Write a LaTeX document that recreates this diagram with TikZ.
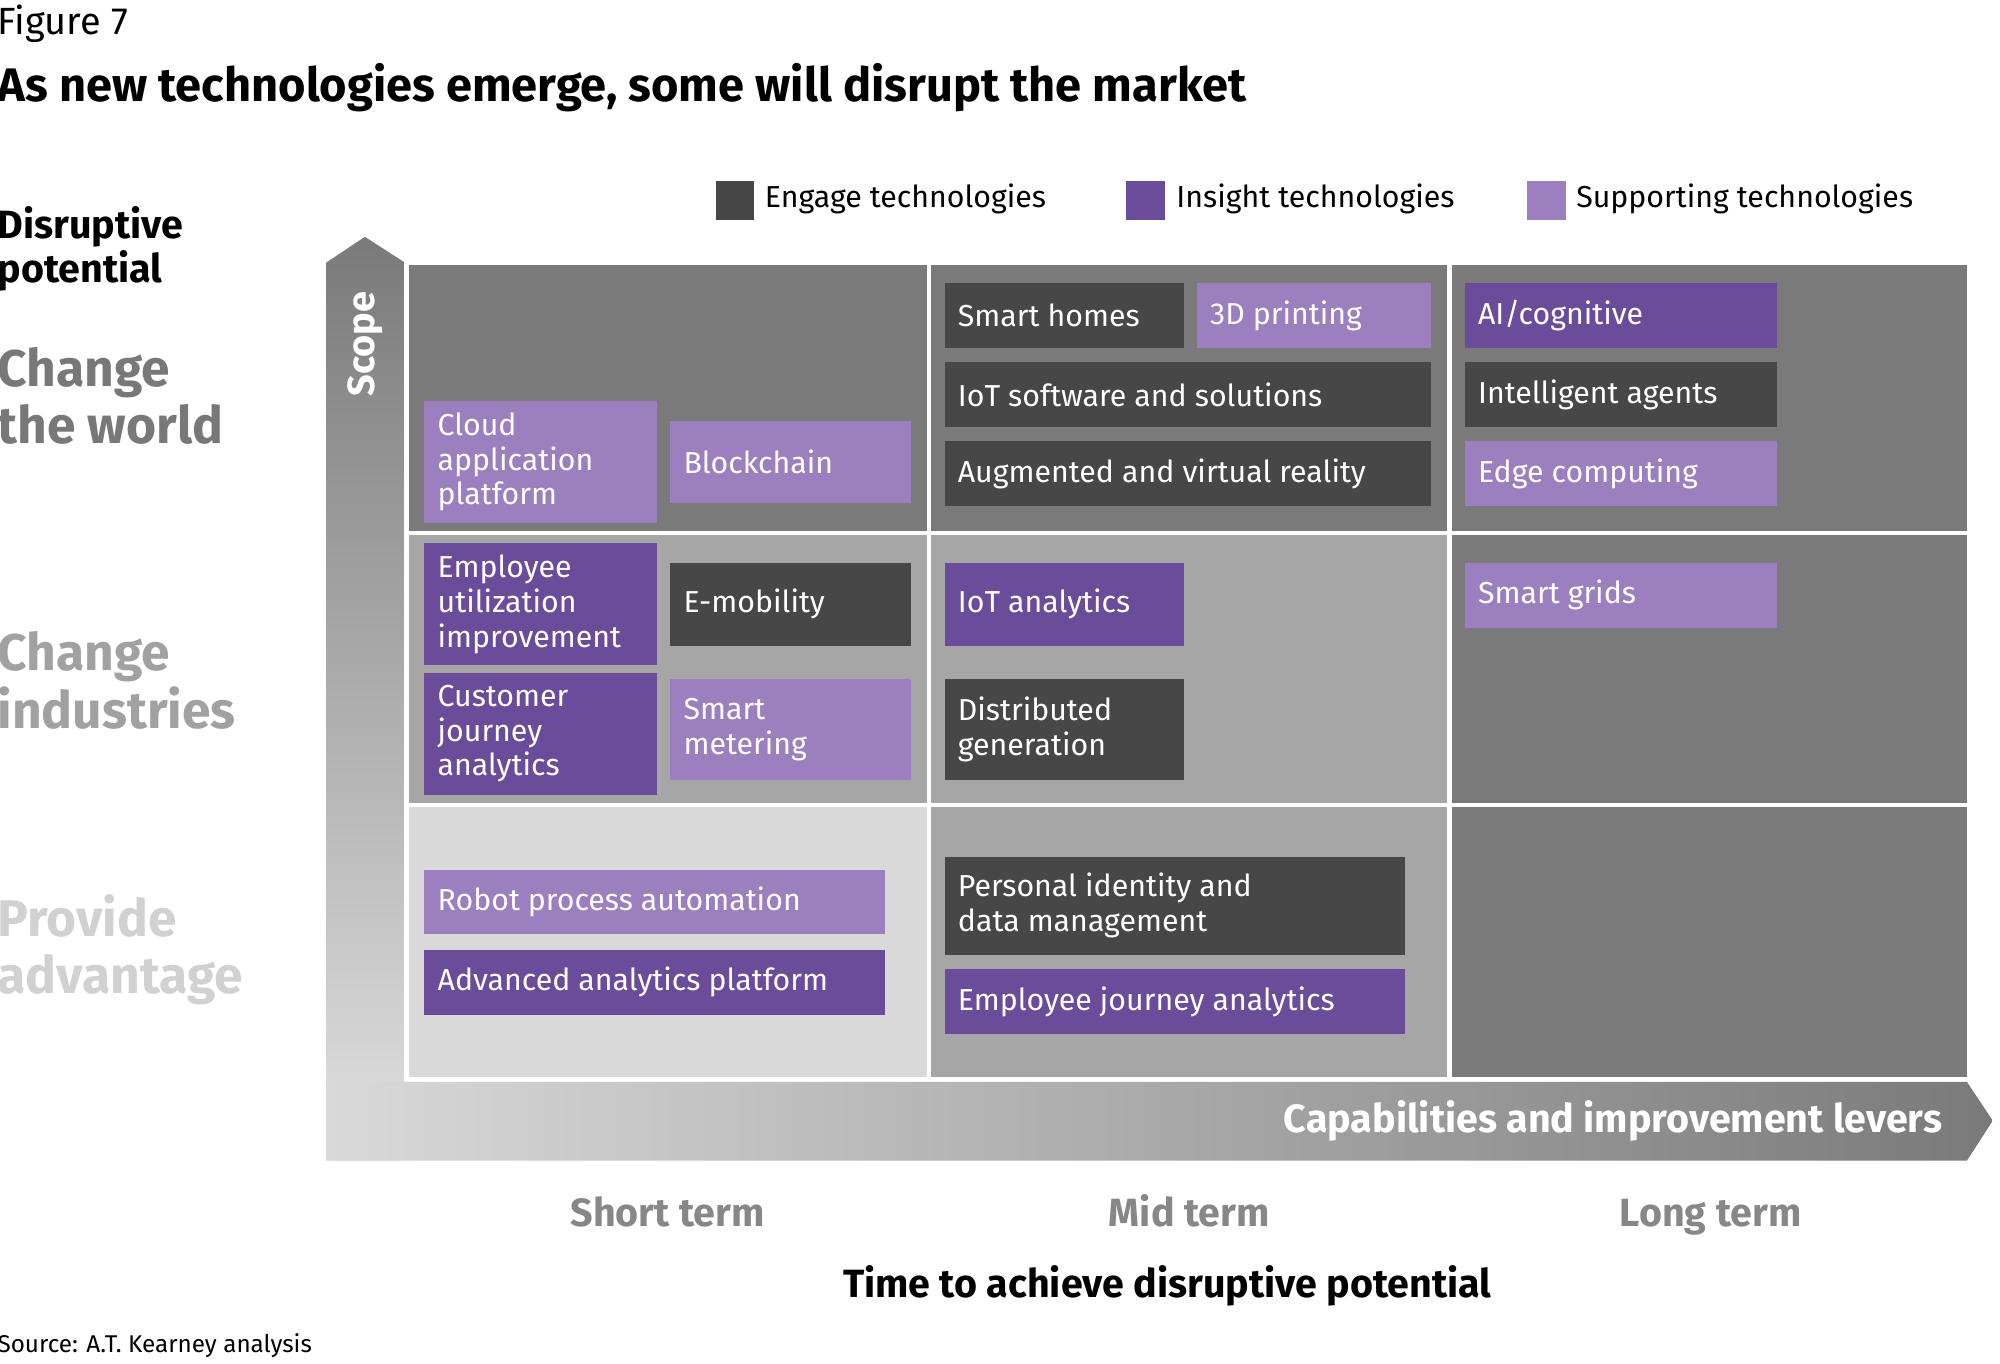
\documentclass[tikz,border=0pt]{standalone}
\usepackage{fontspec}
\setmainfont{Fira Sans}
\definecolor{engage}{HTML}{474747}
\definecolor{insight}{HTML}{6B4C9A}
\definecolor{support}{HTML}{9B7FBF}
\definecolor{celldark}{HTML}{7A7A7A}
\definecolor{cellmid}{HTML}{A6A6A6}
\definecolor{celllight}{HTML}{D9D9D9}
\tikzset{
  boxtext/.style={text=white, font=\fontsize{20}{23}\selectfont, align=left, inner xsep=0.3cm, anchor=west},
  cell/.style={draw=white, line width=3pt},
  rowlabel/.style={font=\bfseries\fontsize{34}{38}\selectfont, align=left, anchor=west},
  termlabel/.style={font=\bfseries\fontsize{26}{30}\selectfont, text=black!47, anchor=base},
  legendtext/.style={font=\fontsize{20}{23}\selectfont, anchor=west}
}
% fill, name, x1, y1, x2, y2, text
\newcommand\techbox[7]{%
  \fill[#1] (#3,#4) rectangle (#5,#6);
  \node[boxtext] (#2) at (#3,{(#4+#6)/2}) {#7};}
\begin{document}
\begin{tikzpicture}[x=0.03cm, y=-0.03cm]
\useasboundingbox (0,0) rectangle (1545.6,1054);

% title
\node[anchor=west, font=\fontsize{25}{28}\selectfont] (fig) at (-6,18) {Figure 7};
\node[anchor=west, font=\bfseries\fontsize{31}{35}\selectfont] (title) at (-6,68) {As new technologies emerge, some will disrupt the market};

% legend
\fill[engage] (553,140) rectangle (583,170);
\node[legendtext] (lgengage) at (587,154) {Engage technologies};
\fill[insight] (870,140) rectangle (900,170);
\node[legendtext] (lginsight) at (905,154) {Insight technologies};
\fill[support] (1180,140) rectangle (1210,170);
\node[legendtext] (lgsupport) at (1214,154) {Supporting technologies};

% row labels
\node[anchor=west, font=\bfseries\fontsize{26}{29}\selectfont, align=left] (disr) at (-6,192) {Disruptive\\potential};
\node[rowlabel, text=black!53] (world) at (-6,306) {Change\\the world};
\node[rowlabel, text=black!37] (indus) at (-6,526) {Change\\industries};
\node[rowlabel, text=black!18] (advan) at (-6,734) {Provide\\advantage};

% axes
\shade[top color=celldark, bottom color=celllight!80] (252,897) -- (252,203) -- (282,183) -- (313,203) -- (313,897) -- cycle;
\shade[left color=celllight, right color=celldark] (252,836) -- (1520,836) -- (1540,866) -- (1520,897) -- (252,897) -- cycle;
\node[rotate=90, text=white, font=\bfseries\fontsize{25}{28}\selectfont] (scope) at (282,266) {Scope};
\node[anchor=east, text=white, font=\bfseries\fontsize{26}{30}\selectfont] (levers) at (1505,866) {Capabilities and improvement levers};

% grid
\filldraw[cell, fill=celldark] (314,203) rectangle (718,412);
\filldraw[cell, fill=celldark] (718,203) rectangle (1120,412);
\filldraw[cell, fill=celldark] (1120,203) rectangle (1522,412);
\filldraw[cell, fill=cellmid] (314,412) rectangle (718,622);
\filldraw[cell, fill=cellmid] (718,412) rectangle (1120,622);
\filldraw[cell, fill=celldark] (1120,412) rectangle (1522,622);
\filldraw[cell, fill=celllight] (314,622) rectangle (718,834);
\filldraw[cell, fill=cellmid] (718,622) rectangle (1120,834);
\filldraw[cell, fill=celldark] (1120,622) rectangle (1522,834);

% change the world
\techbox{support}{cloud}{328}{310}{508}{404}{Cloud\\application\\platform}
\techbox{support}{chain}{518}{325}{704}{389}{Blockchain}
\techbox{engage}{homes}{730}{219}{915}{269}{Smart homes}
\techbox{support}{print}{925}{219}{1106}{269}{3D printing}
\techbox{engage}{iotsw}{730}{280}{1106}{330}{IoT software and solutions}
\techbox{engage}{arvr}{730}{341}{1106}{391}{Augmented and virtual reality}
\techbox{insight}{ai}{1132}{219}{1373}{269}{AI/cognitive}
\techbox{engage}{agents}{1132}{280}{1373}{330}{Intelligent agents}
\techbox{support}{edge}{1132}{341}{1373}{391}{Edge computing}

% change industries
\techbox{insight}{empl}{328}{420}{508}{514}{Employee\\utilization\\improvement}
\techbox{engage}{emob}{518}{435}{704}{499}{E-mobility}
\techbox{insight}{cust}{328}{520}{508}{614}{Customer\\journey\\analytics}
\techbox{support}{meter}{518}{525}{704}{603}{Smart\\metering}
\techbox{insight}{iotan}{730}{435}{915}{499}{IoT analytics}
\techbox{engage}{distgen}{730}{525}{915}{603}{Distributed\\generation}
\techbox{support}{grids}{1132}{435}{1373}{485}{Smart grids}

% provide advantage
\techbox{support}{rpa}{328}{672}{684}{722}{Robot process automation}
\techbox{insight}{adv}{328}{734}{684}{784}{Advanced analytics platform}
\techbox{engage}{ident}{730}{662}{1086}{738}{Personal identity and\\data management}
\techbox{insight}{journey}{730}{749}{1086}{799}{Employee journey analytics}

% time axis
\node[termlabel] (short) at (516,948) {Short term};
\node[termlabel] (mid) at (919,948) {Mid term};
\node[termlabel] (long) at (1322,948) {Long term};
\node[font=\bfseries\fontsize{26}{30}\selectfont, anchor=base] (time) at (902,1003) {Time to achieve disruptive potential};
\node[anchor=west, font=\fontsize{16}{19}\selectfont] (src) at (-6,1040) {Source: A.T. Kearney analysis};
\end{tikzpicture}
\end{document}
